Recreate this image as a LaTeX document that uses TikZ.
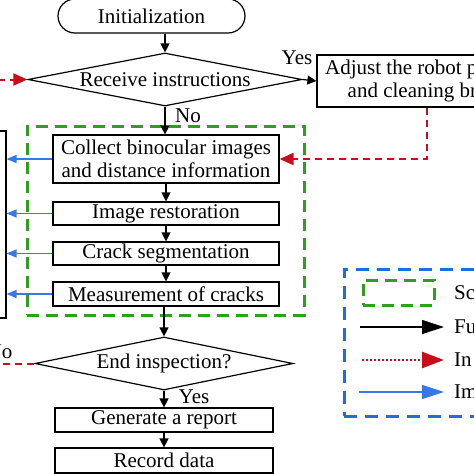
\documentclass[tikz,border=0pt]{standalone}
\usepackage{fontspec}
\setmainfont{Liberation Serif}
\usetikzlibrary{shapes.geometric,arrows.meta}
\definecolor{scopegreen}{RGB}{45,160,30}
\definecolor{instred}{RGB}{200,15,25}
\definecolor{imgblue}{RGB}{55,120,230}
\definecolor{legblue}{RGB}{30,110,225}
\begin{document}
\begin{tikzpicture}[x=1pt,y=-1pt,
  font=\fontsize{21}{23.5}\selectfont,
  box/.style={draw, line width=1.2pt, inner sep=0pt, minimum width=226pt, align=center},
  decision/.style={draw, diamond, line width=1.2pt, inner sep=0pt},
  flow/.style={line width=1.2pt, -{Triangle[length=9pt,width=9pt]}},
  instr/.style={instred, line width=2pt, dash pattern=on 7pt off 5pt},
  redtip/.style={-{Triangle[length=14pt,width=12pt]}},
  imgflow/.style={imgblue, line width=1.5pt, -{Triangle[length=10pt,width=8pt]}},
  scope/.style={draw=scopegreen, line width=3pt, dash pattern=on 12pt off 7pt},
  legendbox/.style={draw=legblue, line width=3pt, dash pattern=on 13pt off 8pt},
  lbl/.style={inner sep=0pt}
]
\useasboundingbox (0,0) rectangle (474,474);
\clip (0,0) rectangle (474,474);

% scope of inspection
\node[scope, minimum width=277pt, minimum height=189pt, inner sep=0pt] (scopebox) at (165.5,220.5) {};

% left (cut) box
\node[draw, line width=1.2pt, minimum width=20pt, minimum height=187pt, inner sep=0pt] (leftbox) at (-4,224.5) {};

% main flow
\node[box, rounded corners=17pt, minimum width=187pt, minimum height=34pt] (init) at (151.5,16) {Initialization};
\node[decision, aspect=5.17, minimum width=274pt, minimum height=53pt] (recv) at (165,79.5) {Receive instructions};
\node[box, minimum width=220pt, minimum height=52pt] (adjust) at (427,81) {Adjust the robot posture\\and cleaning brush};
\node[box, minimum height=48pt] (collect) at (166,159) {Collect binocular images\\and distance information};
\node[box, minimum height=23pt] (restore) at (166,213.5) {Image restoration};
\node[box, minimum height=23pt] (crack) at (166,253.5) {Crack segmentation};
\node[box, minimum height=24pt] (measure) at (166,294) {Measurement of cracks};
\node[decision, aspect=4.87, minimum width=258pt, minimum height=53pt] (endq) at (164,363.5) {End inspection?};
\node[box, minimum width=218pt, minimum height=24pt] (report) at (164,420) {Generate a report};
\node[box, minimum width=218pt, minimum height=25pt] (record) at (164,460.5) {Record data};

% labels
\node[lbl] (yes1) at (297,58) {Yes};
\node[lbl] (no1) at (188,116) {No};
\node[lbl] (yes2) at (194,397) {Yes};
\node[lbl, anchor=east] (no2) at (12.5,352) {No};

% black flow
\draw[flow] (recv.north |- init.south) -- (recv.north);
\draw[flow] (recv.east) -- (adjust.west);
\draw[flow] (recv.south) -- (collect.north -| recv.south);
\draw[flow] (collect.south) -- (restore.north);
\draw[flow] (restore.south) -- (crack.north);
\draw[flow] (crack.south) -- (measure.north);
\draw[flow] (measure.south -| endq.north) -- (endq.north);
\draw[flow] (endq.south) -- (report.north);
\draw[flow] (report.south) -- (record.north);

% instruction flow
\coordinate (inL) at (-2,79.5);
\draw[instr, redtip] (inL) -- (recv.west);
\draw[instr, redtip] (adjust.south) |- (collect.east);
\coordinate (noL) at (-2,363.5);
\draw[instr] (endq.west) -- (noL);

% image flow
\draw[imgflow] (collect.west) -- (collect.west -| leftbox.east);
\draw[imgflow] (restore.west) -- (restore.west -| leftbox.east);
\draw[imgflow] (crack.west) -- (crack.west -| leftbox.east);
\draw[imgflow] (measure.west) -- (measure.west -| leftbox.east);

% legend
\node[legendbox, minimum width=170pt, minimum height=147pt, inner sep=0pt] (legend) at (429,342.5) {};
\node[scope, minimum width=71pt, minimum height=25pt, inner sep=0pt] (legscope) at (398.5,292.5) {};
\node[lbl, anchor=west] (t1) at (454,293) {Sc};
\coordinate (a1s) at (360,327); \coordinate (a1e) at (444,327);
\draw[line width=1.2pt, -{Triangle[length=22pt,width=14pt]}] (a1s) -- (a1e);
\node[lbl, anchor=west] (t2) at (454,327) {Fu};
\coordinate (a2s) at (362,360); \coordinate (a2e) at (444,360);
\draw[instred, line width=2.6pt, dash pattern=on 2pt off 2pt, -{Triangle[length=22pt,width=16pt]}] (a2s) -- (a2e);
\node[lbl, anchor=west] (t3) at (454,360) {In};
\coordinate (a3s) at (359,392); \coordinate (a3e) at (444,392);
\draw[imgblue, line width=1.5pt, -{Triangle[length=22pt,width=14pt]}] (a3s) -- (a3e);
\node[lbl, anchor=west] (t4) at (454,392) {Im};
\end{tikzpicture}
\end{document}
